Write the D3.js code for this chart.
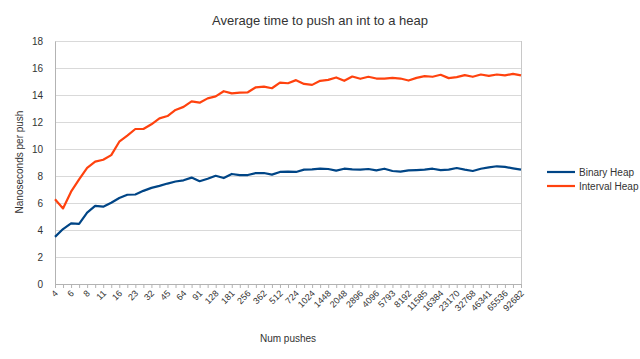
<!DOCTYPE html>
<html><head><meta charset="utf-8">
<script src="https://cdn.jsdelivr.net/npm/d3@7"></script>
<style>body{margin:0;background:#fff}svg{display:block}text{font-family:"Liberation Sans",Arial,sans-serif;fill:#333}</style>
</head><body><svg id="c" width="640" height="359"></svg>
<script>
const categories = [4,5,6,7,8,10,11,13,16,19,23,27,32,38,45,54,64,76,91,108,128,152,181,215,256,304,362,431,512,609,724,861,1024,1218,1448,1722,2048,2436,2896,3444,4096,4871,5793,6889,8192,9742,11585,13777,16384,19484,23170,27554,32768,38968,46341,55109,65536,77936,92682];
const binaryHeap = [3.49,4.07,4.49,4.46,5.29,5.78,5.73,6.02,6.37,6.61,6.63,6.9,7.12,7.27,7.44,7.59,7.68,7.88,7.61,7.8,8.02,7.85,8.15,8.07,8.07,8.22,8.22,8.1,8.3,8.32,8.3,8.47,8.49,8.54,8.52,8.4,8.54,8.49,8.47,8.52,8.42,8.54,8.37,8.32,8.42,8.44,8.47,8.54,8.44,8.47,8.59,8.47,8.37,8.54,8.64,8.72,8.67,8.57,8.47];
const intervalHeap = [6.27,5.6,6.84,7.75,8.6,9.06,9.2,9.55,10.54,10.99,11.48,11.48,11.83,12.27,12.44,12.89,13.12,13.53,13.43,13.75,13.9,14.28,14.12,14.18,14.2,14.57,14.62,14.5,14.92,14.87,15.1,14.82,14.75,15.05,15.12,15.3,15.05,15.37,15.2,15.35,15.22,15.22,15.27,15.22,15.07,15.27,15.4,15.35,15.5,15.25,15.32,15.47,15.35,15.52,15.42,15.52,15.45,15.57,15.45];
const yTicks = [0,2,4,6,8,10,12,14,16,18];
const seriesNames = ["Binary Heap","Interval Heap"];
const colors = ["#004586","#ff420e"];

const svg = d3.select("#c");
const L = 55, R = 521, T = 41, B = 284;
const x = d3.scalePoint().domain(categories.map(String)).range([L, R]);
const y = d3.scaleLinear().domain([0,18]).range([B, T]);

// grid
svg.append("g").selectAll("line").data(yTicks).join("line")
  .attr("x1", L).attr("x2", R).attr("y1", d=>y(d)+0.5).attr("y2", d=>y(d)+0.5)
  .attr("stroke", "#d9d9d9").attr("stroke-width", 1);
// right border
svg.append("line").attr("x1", R+0.5).attr("x2", R+0.5).attr("y1", T).attr("y2", B).attr("stroke", "#c8c8c8");

// y axis
const ya = svg.append("g").attr("transform", `translate(${L},0)`)
  .call(d3.axisLeft(y).tickValues(yTicks).tickSize(0).tickPadding(12));
ya.select(".domain").attr("stroke", "#b3b3b3");
ya.selectAll("text").attr("font-size", 10).attr("fill", "#333").style("font-family", "Liberation Sans, Arial, sans-serif");

// x axis
const xa = svg.append("g").attr("transform", `translate(0,${B})`)
  .call(d3.axisBottom(x).tickSizeInner(4).tickSizeOuter(0)
    .tickFormat((d,i)=> i%2===0 ? d : ""));
xa.select(".domain").attr("stroke", "#b3b3b3");
xa.selectAll(".tick line").attr("stroke", "#b3b3b3");
xa.selectAll("text").attr("font-size", 9).attr("fill", "#333")
  .style("font-family", "Liberation Sans, Arial, sans-serif")
  .attr("text-anchor", "end").attr("dy", null).attr("y", 0)
  .attr("transform", "translate(3,10) rotate(-45)");

// lines
const series = [binaryHeap, intervalHeap];
const line = d3.line().x((d,i)=>x(String(categories[i]))).y(d=>y(d));
series.forEach((s,k)=>{
  svg.append("path").datum(s).attr("d", line).attr("fill","none")
    .attr("stroke", colors[k]).attr("stroke-width", 2.2).attr("stroke-linejoin","round");
});

// title
svg.append("text").attr("x", 320).attr("y", 25).attr("text-anchor","middle")
  .attr("font-size", 13).text("Average time to push an int to a heap");
// axis titles
svg.append("text").attr("x", 288).attr("y", 342).attr("text-anchor","middle")
  .attr("font-size", 10).text("Num pushes");
svg.append("text").attr("transform","translate(23,162) rotate(-90)").attr("text-anchor","middle")
  .attr("font-size", 10).text("Nanoseconds per push");

// legend
const lg = svg.append("g");
seriesNames.forEach((n,k)=>{
  const yy = 172 + k*14;
  lg.append("line").attr("x1",547).attr("x2",575).attr("y1",yy).attr("y2",yy)
    .attr("stroke",colors[k]).attr("stroke-width",2.2);
  lg.append("text").attr("x",579).attr("y",yy+3.5).attr("font-size",10).text(n);
});
</script></body></html>
